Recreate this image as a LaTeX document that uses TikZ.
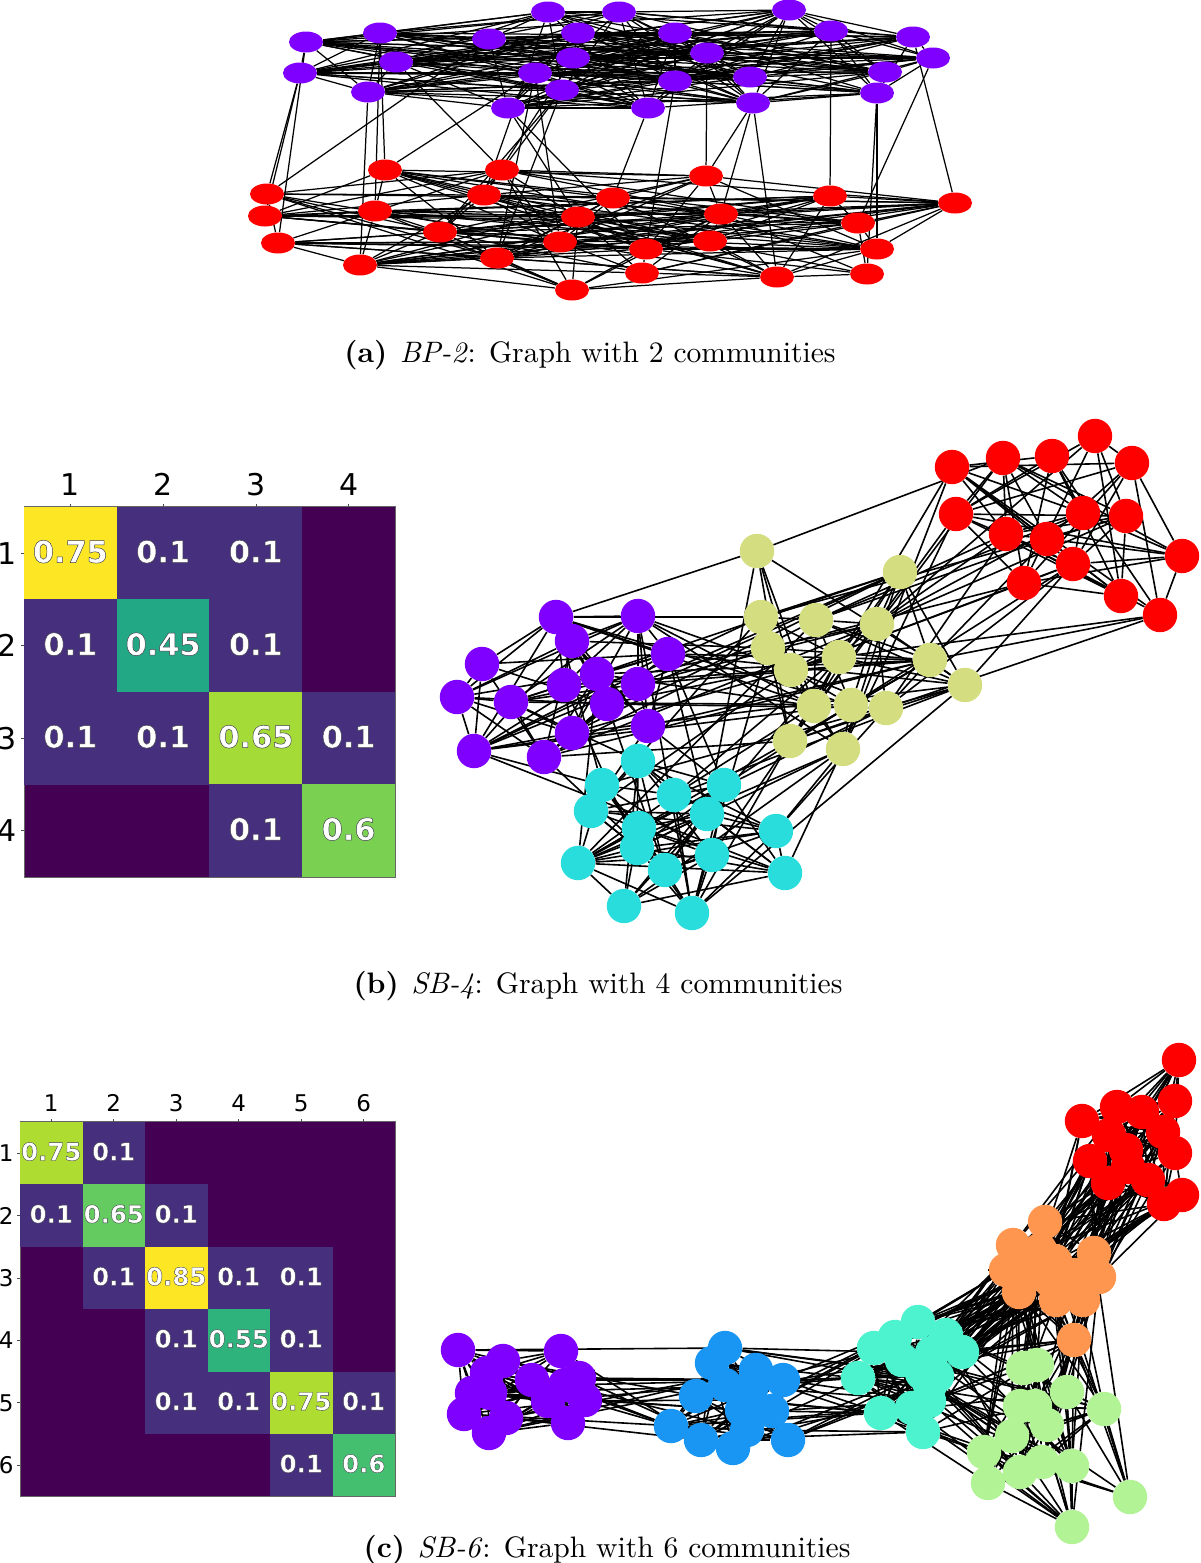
\documentclass[tikz,border=0pt]{standalone}
\usepackage{fontspec}
\usepackage{xcolor}
\usetikzlibrary{shapes.geometric,backgrounds}
\newfontfamily\ticksfont{DejaVu Sans}
\newfontfamily\cellsfont[UprightFont={* Bold},RawFeature={embolden=1.6}]{DejaVu Sans}
% viridis steps of the matrices
\definecolor{vzero}{RGB}{68,1,84}
\definecolor{vlow}{RGB}{70,47,124}
\definecolor{vfortyfive}{RGB}{34,168,132}
\definecolor{vfiftyfive}{RGB}{46,179,124}
\definecolor{vsix}{RGB}{68,191,112}
\definecolor{vsixfive}{RGB}{99,203,95}
\definecolor{vsixb}{RGB}{122,209,81}
\definecolor{vsevenfive}{RGB}{174,220,48}
\definecolor{vsixfiveb}{RGB}{165,219,54}
\definecolor{vtop}{RGB}{253,231,37}
% community colours
\definecolor{compurple}{RGB}{128,0,255}
\definecolor{comred}{RGB}{255,0,0}
\definecolor{comolive}{RGB}{212,221,128}
\definecolor{comcyan}{RGB}{42,221,221}
\definecolor{comblue}{RGB}{25,150,243}
\definecolor{comteal}{RGB}{77,243,206}
\definecolor{comlime}{RGB}{178,243,150}
\definecolor{comorange}{RGB}{255,150,79}
\newcommand{\cellnum}[1]{\raisebox{1.8pt}{\special{pdf:bcolor [1 1 1] [0.25 0.25 0.3]}#1\special{pdf:ecolor}}}
\newcommand{\intraedges}[4]{% style, prefix, size, probability
    \foreach \i in {1,...,#3}{\foreach \j in {1,...,#3}{
        \pgfmathtruncatemacro{\hit}{(\i<\j)&&(rnd<#4)}
        \ifnum\hit=1 \draw[#1] (#2\i) -- (#2\j);\fi
    }}}
\newcommand{\crossedges}[6]{% style, prefix, size, prefix, size, probability
    \foreach \i in {1,...,#3}{\foreach \j in {1,...,#5}{
        \pgfmathtruncatemacro{\hit}{rnd<#6}
        \ifnum\hit=1 \draw[#1] (#2\i) -- (#4\j);\fi
    }}}
\begin{document}
\begin{tikzpicture}[x=0.5pt, y=-0.5pt,
    oval/.style={ellipse, inner sep=0pt, minimum width=17pt, minimum height=10.5pt},
    vertex/.style={circle, inner sep=0pt, minimum size=17.2pt},
    thinedge/.style={black, line width=0.62pt},
    edge/.style={black, line width=0.8pt},
    cellb/.style={inner sep=0pt, minimum size=46.4pt, text=white, font=\cellsfont\fontsize{15.2}{15.2}\selectfont},
    cellc/.style={inner sep=0pt, minimum size=31.25pt, text=white, font=\cellsfont\fontsize{12.2}{12.2}\selectfont},
    tickb/.style={inner sep=0pt, font=\ticksfont\fontsize{15}{15}\selectfont},
    tickc/.style={inner sep=0pt, font=\ticksfont\fontsize{11.5}{11.5}\selectfont},
    tickmark/.style={black!70, line width=0.35pt},
    frame/.style={draw=black!60, line width=0.4pt, inner sep=0pt, fill=vzero},
    caption/.style={inner sep=0pt, anchor=base, scale=1.48}
]
    \useasboundingbox (0,0) rectangle (1200,1563);
    \pgfmathsetseed{4711}

    % (a) two layers
    \foreach \x/\y [count=\n] in {548/12,619/12,789/10,306/42,380/33,489/39,578/33,675/33,831/31,913/37,933/58,707/53,573/58,396/62,300/73,535/73,885/72,675/81,750/77,368/92,562/90,877/93,508/108,648/108,753/103}
        \node[oval, fill=compurple] (pa\n) at (\x,\y) {};
    \foreach \x/\y [count=\n] in {385/170,502/170,706/176,267/194,484/195,613/198,830/196,955/203,265/216,375/211,578/217,721/214,858/223,440/232,278/243,560/242,710/241,646/249,877/249,360/265,497/258,642/273,777/277,867/274,572/290}
        \node[oval, fill=comred] (ra\n) at (\x,\y) {};
    \begin{scope}[on background layer]
        \intraedges{thinedge}{pa}{25}{0.68}
        \intraedges{thinedge}{ra}{25}{0.55}
        \foreach \a/\b in {15/4,15/9,4/15,5/1,5/10,20/20,16/1,6/4,14/2,23/18,23/11,21/14,21/2,16/21,21/21,16/16,13/5,1/5,24/6,18/18,12/3,25/3,25/12,25/23,9/7,22/19,22/24,11/13,10/8}
            \draw[thinedge] (pa\a) -- (ra\b);
    \end{scope}
    \node[caption] (capa) at (590,362) {\textbf{(a)}\hspace{0.42em}\textit{BP-2}: Graph with 2 communities};

    % (b) matrix
    \node[frame, minimum size=185.5pt] (matb) at (209.5,692) {};
    \foreach \r/\c/\colr/\val in {1/1/vtop/0.75,1/2/vlow/0.1,1/3/vlow/0.1,2/1/vlow/0.1,2/2/vfortyfive/0.45,2/3/vlow/0.1,3/1/vlow/0.1,3/2/vlow/0.1,3/3/vsixfiveb/0.65,3/4/vlow/0.1,4/3/vlow/0.1,4/4/vsixb/0.6}
        \node[cellb, fill=\colr] (mb\r\c) at ({24+(\c-0.5)*92.75},{507+(\r-0.5)*92.5}) {\cellnum{\val}};
    \foreach \i in {1,...,4}{
        \node[tickb, anchor=base] (tbx\i) at ({24+(\i-0.5)*92.75},495) {\i};
        \node[tickb, anchor=east] (tby\i) at (17,{507+(\i-0.5)*92.5}) {\i};
        \draw[tickmark] ({24+(\i-0.5)*92.75},507) -- ++(0,-3);
        \draw[tickmark] (24,{507+(\i-0.5)*92.5}) -- ++(-3,0);
    }

    % (b) graph
    \foreach \x/\y [count=\n] in {952/467,1003/458,1052/456,1095/436,1132/463,956/514,1083/513,1126/516,1006/534,1047/539,1073/564,1024/583,1182/556,1121/596,1160/615}
        \node[vertex, fill=comred] (rb\n) at (\x,\y) {};
    \foreach \x/\y [count=\n] in {757/551,900/572,761/617,816/620,877/624,768/648,839/657,791/670,930/660,965/685,814/706,851/705,886/708,790/741,843/749}
        \node[vertex, fill=comolive] (ob\n) at (\x,\y) {};
    \foreach \x/\y [count=\n] in {556/617,638/616,572/641,668/654,482/664,597/674,564/685,638/684,457/697,511/702,607/704,648/726,572/733,474/751,544/757}
        \node[vertex, fill=compurple] (pb\n) at (\x,\y) {};
    \foreach \x/\y [count=\n] in {638/761,602/785,724/785,674/795,591/811,707/814,639/828,776/831,637/848,712/855,578/863,665/870,785/873,624/906,692/913}
        \node[vertex, fill=comcyan] (cb\n) at (\x,\y) {};
    \begin{scope}[on background layer]
        \intraedges{edge}{rb}{15}{0.6}
        \intraedges{edge}{ob}{15}{0.45}
        \intraedges{edge}{pb}{15}{0.6}
        \intraedges{edge}{cb}{15}{0.6}
        \crossedges{edge}{rb}{15}{ob}{15}{0.13}
        \crossedges{edge}{ob}{15}{pb}{15}{0.17}
        \crossedges{edge}{ob}{15}{cb}{15}{0.12}
        \crossedges{edge}{pb}{15}{cb}{15}{0.1}
    \end{scope}
    \node[caption] (capb) at (598,993) {\textbf{(b)}\hspace{0.42em}\textit{SB-4}: Graph with 4 communities};

    % (c) matrix
    \node[frame, minimum size=187.5pt] (matc) at (207.5,1309) {};
    \foreach \r/\c/\colr/\val in {1/1/vsevenfive/0.75,1/2/vlow/0.1,2/1/vlow/0.1,2/2/vsixfive/0.65,2/3/vlow/0.1,3/2/vlow/0.1,3/3/vtop/0.85,3/4/vlow/0.1,3/5/vlow/0.1,4/3/vlow/0.1,4/4/vfiftyfive/0.55,4/5/vlow/0.1,5/3/vlow/0.1,5/4/vlow/0.1,5/5/vsevenfive/0.75,5/6/vlow/0.1,6/5/vlow/0.1,6/6/vsix/0.6}
        \node[cellc, fill=\colr] (mc\r\c) at ({20+(\c-0.5)*62.5},{1122+(\r-0.5)*62.4}) {\cellnum{\val}};
    \foreach \i in {1,...,6}{
        \node[tickc, anchor=base] (tcx\i) at ({20+(\i-0.5)*62.5},1111) {\i};
        \node[tickc, anchor=east] (tcy\i) at (14,{1122+(\i-0.5)*62.4}) {\i};
        \draw[tickmark] ({20+(\i-0.5)*62.5},1122) -- ++(0,-3);
        \draw[tickmark] (20,{1122+(\i-0.5)*62.4}) -- ++(-3,0);
    }

    % (c) graph
    \foreach \x/\y [count=\n] in {1179/1060,1175/1101,1117/1107,1142/1112,1082/1121,1163/1132,1109/1135,1126/1150,1175/1153,1090/1161,1148/1180,1108/1183,1182/1195,1164/1204,1128/1167}
        \node[vertex, fill=comred] (rc\n) at (\x,\y) {};
    \foreach \x/\y [count=\n] in {1045/1222,1013/1245,1094/1253,1006/1270,1055/1261,1099/1277,1035/1273,1019/1292,1056/1300,1083/1300,1074/1340,1050/1280,1018/1270,1040/1250,1075/1275}
        \node[vertex, fill=comorange] (oc\n) at (\x,\y) {};
    \foreach \x/\y [count=\n] in {918/1322,874/1348,895/1337,946/1335,962/1352,858/1378,902/1360,937/1376,922/1373,881/1413,912/1408,929/1401,923/1432,932/1353,930/1385}
        \node[vertex, fill=comteal] (tc\n) at (\x,\y) {};
    \foreach \x/\y [count=\n] in {1023/1368,1037/1365,1067/1392,1104/1409,1020/1406,1047/1425,1012/1436,984/1452,1042/1462,1020/1472,1072/1466,988/1483,1130/1497,1072/1527,1035/1406}
        \node[vertex, fill=comlime] (lc\n) at (\x,\y) {};
    \foreach \x/\y [count=\n] in {725/1348,712/1363,756/1370,783/1380,696/1396,725/1385,752/1386,772/1411,747/1430,671/1426,701/1440,733/1448,788/1440,750/1400,742/1410}
        \node[vertex, fill=comblue] (bc\n) at (\x,\y) {};
    \foreach \x/\y [count=\n] in {458/1350,503/1361,561/1351,487/1373,579/1378,532/1380,565/1385,472/1393,585/1400,548/1401,464/1414,506/1418,489/1433,568/1423,490/1393}
        \node[vertex, fill=compurple] (pc\n) at (\x,\y) {};
    \begin{scope}[on background layer]
        \intraedges{edge}{rc}{15}{0.7}
        \intraedges{edge}{oc}{15}{0.7}
        \intraedges{edge}{tc}{15}{0.7}
        \intraedges{edge}{lc}{15}{0.5}
        \intraedges{edge}{bc}{15}{0.7}
        \intraedges{edge}{pc}{15}{0.7}
        \crossedges{edge}{pc}{15}{bc}{15}{0.1}
        \crossedges{edge}{bc}{15}{tc}{15}{0.14}
        \crossedges{edge}{tc}{15}{oc}{15}{0.3}
        \crossedges{edge}{tc}{15}{lc}{15}{0.15}
        \crossedges{edge}{oc}{15}{lc}{15}{0.2}
        \crossedges{edge}{oc}{15}{rc}{15}{0.3}
    \end{scope}
    \node[caption] (capc) at (607,1557) {\textbf{(c)}\hspace{0.42em}\textit{SB-6}: Graph with 6 communities};
\end{tikzpicture}
\end{document}
